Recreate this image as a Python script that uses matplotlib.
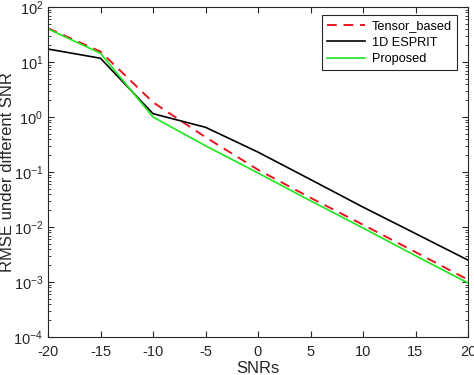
import matplotlib
matplotlib.use("Agg")
import matplotlib.pyplot as plt
from matplotlib.ticker import LogLocator, NullFormatter

snr = [-20, -15, -10, -5, 0, 5, 10, 15, 20]
tensor_based = [41, 15.5, 1.85, 0.43, 0.11, 0.034, 0.011, 0.0035, 0.0011]
esprit_1d = [17.2, 11.7, 1.15, 0.65, 0.23, 0.073, 0.023, 0.0076, 0.0025]
proposed = [40, 14.4, 1.0, 0.30, 0.096, 0.030, 0.0096, 0.0030, 0.00096]

plt.rcParams['font.family'] = ['Liberation Sans', 'DejaVu Sans']
plt.rcParams['axes.unicode_minus'] = False
plt.rcParams['mathtext.fontset'] = 'custom'
plt.rcParams['mathtext.rm'] = 'Liberation Sans'

fig = plt.figure(figsize=(4.74, 3.75), dpi=100)
ax = fig.add_axes([48/474, 1-337/375, 420/474, 330/375])

ax.plot(snr, tensor_based, color='#e8141e', linestyle=(0, (5, 3.5)), linewidth=1.4, label='Tensor_based')
ax.plot(snr, esprit_1d, color='black', linewidth=1.2, label='1D ESPRIT')
ax.plot(snr, proposed, color='#1ee61e', linewidth=1.2, label='Proposed')

ax.set_yscale('log')
ax.set_xlim(-20, 20)
ax.set_ylim(1e-4, 1e2)
ax.set_xticks(range(-20, 21, 5))
ax.yaxis.set_major_locator(LogLocator(base=10, numticks=10))
ax.yaxis.set_minor_locator(LogLocator(base=10, subs=range(2, 10), numticks=20))
ax.yaxis.set_minor_formatter(NullFormatter())

for s in ax.spines.values():
    s.set_color('#262626')
    s.set_linewidth(0.8)
ax.tick_params(which='both', direction='in', top=True, right=True, colors='#262626', labelsize=10.5)
ax.tick_params(which='major', length=4)
ax.tick_params(which='minor', length=2)
ax.tick_params(axis='x', pad=6)

ax.set_xlabel('SNRs', fontsize=12, labelpad=1, color='#262626')
ax.set_ylabel('RMSE under different SNR', fontsize=12, color='#262626')
ax.yaxis.set_label_coords(-33/420, 0.5)

leg = ax.legend(loc='upper right', fontsize=9.2,
                fancybox=False, framealpha=1, edgecolor='#262626', borderpad=0.4,
                handlelength=3.0, labelspacing=0.35, handletextpad=0.5,
                borderaxespad=0)
leg.get_frame().set_linewidth(0.8)
leg.set_bbox_to_anchor((409/420, 1 - 8/330), transform=ax.transAxes)

fig.savefig('out.png', dpi=100)
